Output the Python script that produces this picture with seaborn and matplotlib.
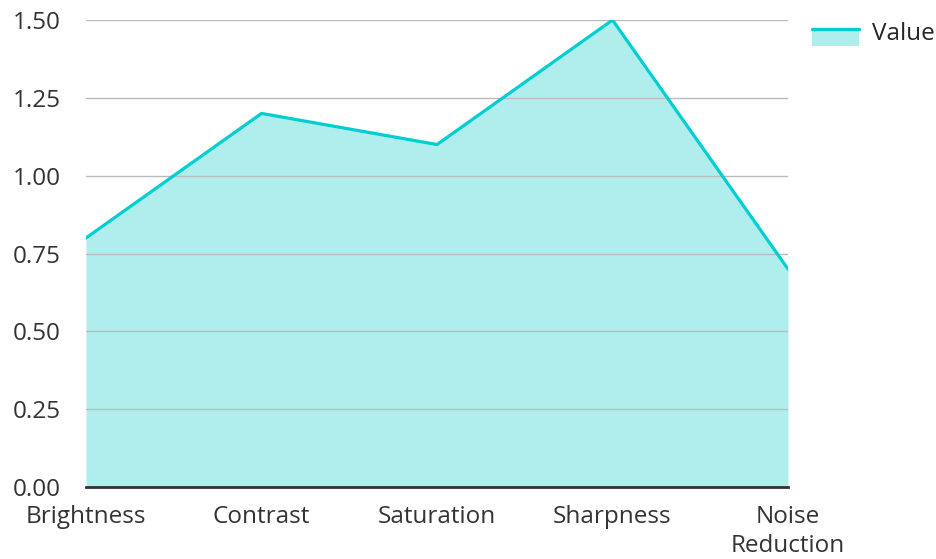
import matplotlib
matplotlib.use('Agg')
import matplotlib.pyplot as plt
from matplotlib.patches import Rectangle
from matplotlib.lines import Line2D
from matplotlib.legend_handler import HandlerBase
import seaborn as sns
import pandas as pd

# chart data
categories = ['Brightness', 'Contrast', 'Saturation', 'Sharpness', 'Noise\nReduction']
values = [0.8, 1.2, 1.1, 1.5, 0.7]
y_ticks = [0.0, 0.25, 0.5, 0.75, 1.0, 1.25, 1.5]

df = pd.DataFrame({'Category': categories, 'Value': values})
df['pos'] = range(len(df))

sns.set_style('white')
plt.rcParams['font.family'] = ['Open Sans', 'Noto Sans', 'DejaVu Sans']

line_color = '#00CED1'
fill_color = '#B0EEEE'
fs = 17.5


# legend marker: line sitting on top of a light patch
class AreaHandler(HandlerBase):
    def create_artists(self, legend, orig_handle, xdescent, ydescent,
                       width, height, fontsize, trans):
        top = -ydescent + height * 0.62
        rect = Rectangle((-xdescent, -ydescent - height * 0.35), width, height * 0.97,
                         facecolor=fill_color, edgecolor='none', transform=trans)
        line = Line2D([-xdescent, -xdescent + width], [top, top],
                      color=line_color, linewidth=2.4, transform=trans)
        return [rect, line]


fig = plt.figure(figsize=(9.36, 5.59), dpi=100)
ax = fig.add_axes([0.0919, 0.1288, 0.75, 0.8354])

ax.fill_between(df['pos'], df['Value'], color=fill_color, linewidth=0, zorder=1)
sns.lineplot(data=df, x='pos', y='Value', color=line_color, linewidth=2.3, ax=ax, zorder=3)

ax.set_xlim(0, len(categories) - 1)
ax.set_ylim(0, 1.5)
ax.set_xticks(df['pos'])
ax.set_xticklabels(categories, fontsize=fs, color='#333333', linespacing=1.3)
ax.set_yticks(y_ticks)
ax.set_yticklabels([f'{v:.2f}' for v in y_ticks], fontsize=fs, color='#333333')
ax.tick_params(axis='x', length=0, pad=13)
ax.tick_params(axis='y', length=0, pad=18)
ax.yaxis.grid(True, color='#bbbbbb', linewidth=1, zorder=2)
ax.set_axisbelow(False)
for s in ['left', 'right', 'top']:
    ax.spines[s].set_visible(False)
ax.spines['bottom'].set_color('#333333')
ax.spines['bottom'].set_linewidth(2)
ax.spines['bottom'].set_zorder(4)
ax.set_xlabel('')
ax.set_ylabel('')

proxy = Line2D([], [])
fig.legend([proxy], ['Value'], handler_map={Line2D: AreaHandler()},
           loc='upper left', bbox_to_anchor=(812 / 936, 1 - 22 / 559),
           frameon=False, fontsize=fs, handlelength=1.95, handletextpad=0.5,
           borderpad=0, borderaxespad=0)

fig.savefig('out.png', dpi=100)
